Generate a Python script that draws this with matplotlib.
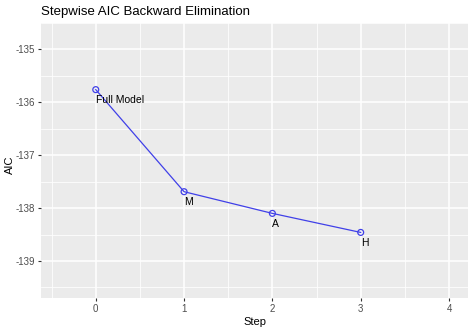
import matplotlib
matplotlib.use("Agg")
import matplotlib.pyplot as plt

plt.rcParams["font.family"] = ["Liberation Sans", "DejaVu Sans"]
plt.rcParams["axes.unicode_minus"] = False

# Backward elimination path: AIC after each removal step
steps = [0, 1, 2, 3]
aic = [-135.76, -137.69, -138.10, -138.46]
labels = ["Full Model", "M", "A", "H"]

x_ticks = [0, 1, 2, 3, 4]
y_ticks = [-135, -136, -137, -138, -139]

fig = plt.figure(figsize=(4.74, 3.31), dpi=100)
ax = fig.add_axes([41 / 474, 1 - 298 / 331, (468 - 41) / 474, (298 - 23) / 331])

ax.set_facecolor("#EBEBEB")
for s in ax.spines.values():
    s.set_visible(False)

ax.set_xlim(-0.62, 4.215)
ax.set_ylim(-139.70, -134.51)

ax.set_xticks(x_ticks)
ax.set_yticks(y_ticks)
ax.set_xticks([-0.5, 0.5, 1.5, 2.5, 3.5], minor=True)
ax.set_yticks([-134.5, -135.5, -136.5, -137.5, -138.5, -139.5], minor=True)
ax.grid(which="major", color="white", linewidth=1.1)
ax.grid(which="minor", color="white", linewidth=0.55)
ax.set_axisbelow(True)
ax.tick_params(which="major", length=2.5, width=0.8, color="#333333",
               labelsize=7, labelcolor="#4D4D4D", pad=2)
ax.tick_params(which="minor", length=0)

ax.plot(steps, aic, color="#4040E8", linewidth=0.9, zorder=3)
ax.scatter(steps, aic, s=18, facecolors="none", edgecolors="#4040E8",
           linewidths=0.9, zorder=4)

for xs, ys, lab in zip(steps, aic, labels):
    ax.annotate(lab, (xs, ys), xytext=(0, -4), textcoords="offset points",
                ha="left", va="top", fontsize=7.5, color="black")

ax.set_xlabel("Step", fontsize=8, labelpad=2)
fig.text(10 / 474, 1 - 165 / 331, "AIC", fontsize=8, rotation=90,
         ha="center", va="center")
fig.text(41 / 474, 1 - 12 / 331, "Stepwise AIC Backward Elimination",
         fontsize=9.5, ha="left", va="center")

fig.savefig("out.png", dpi=100)
